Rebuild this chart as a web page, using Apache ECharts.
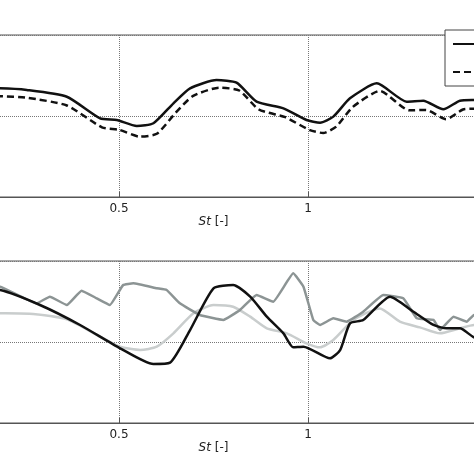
<!DOCTYPE html>
<html><head><meta charset="utf-8">
<script src="https://cdn.jsdelivr.net/npm/echarts@6/dist/echarts.min.js"></script>
<style>html,body{margin:0;padding:0;background:#fff}#c{width:474px;height:474px}</style>
</head><body><div id="c"></div>
<script>
const topSolidX=[0,0.185,0.256,0.362,0.450,0.494,0.547,0.591,0.644,0.688,0.758,0.811,0.864,0.935,0.996,1.032,1.067,1.111,1.182,1.261,1.305,1.358,1.402,1.439,1.5];
const topSolidY=[1.35,1.342,1.321,1.238,0.971,0.951,0.877,0.910,1.157,1.342,1.444,1.411,1.177,1.095,0.951,0.918,0.992,1.218,1.403,1.177,1.189,1.082,1.189,1.198,1.2];
const topDashX=[0,0.185,0.256,0.362,0.455,0.500,0.555,0.600,0.650,0.695,0.765,0.818,0.870,0.940,1.005,1.040,1.075,1.118,1.190,1.268,1.312,1.365,1.410,1.439,1.5];
const topDashY=[1.25,1.245,1.225,1.130,0.860,0.830,0.745,0.780,1.040,1.245,1.350,1.315,1.080,0.985,0.825,0.790,0.870,1.110,1.310,1.070,1.075,0.960,1.080,1.090,1.1];
const blackX=[0,0.185,0.291,0.397,0.503,0.591,0.635,0.688,0.750,0.802,0.847,0.891,0.935,0.961,0.988,1.058,1.085,1.111,1.146,1.217,1.279,1.332,1.367,1.402,1.439,1.5];
const blackY=[1.75,1.642,1.457,1.210,0.922,0.728,0.745,1.148,1.663,1.704,1.560,1.313,1.107,0.934,0.942,0.798,0.901,1.230,1.272,1.560,1.374,1.210,1.169,1.169,1.058,1.0];
const darkX=[0,0.185,0.282,0.317,0.362,0.401,0.441,0.476,0.511,0.538,0.600,0.626,0.661,0.714,0.776,0.820,0.864,0.908,0.961,0.988,1.014,1.032,1.067,1.102,1.146,1.199,1.252,1.288,1.332,1.349,1.385,1.420,1.439,1.5];
const darkY=[1.75,1.683,1.477,1.560,1.457,1.634,1.539,1.457,1.704,1.724,1.663,1.642,1.477,1.333,1.272,1.395,1.580,1.498,1.848,1.683,1.272,1.210,1.292,1.251,1.374,1.580,1.539,1.292,1.272,1.148,1.313,1.251,1.333,1.3];
const lightX=[0,0.185,0.273,0.362,0.450,0.503,0.556,0.600,0.644,0.697,0.750,0.802,0.847,0.891,0.944,0.996,1.032,1.067,1.120,1.190,1.243,1.296,1.349,1.402,1.439,1.5];
const lightY=[1.36,1.354,1.346,1.280,1.066,0.942,0.901,0.942,1.107,1.354,1.457,1.436,1.313,1.169,1.107,0.984,0.934,1.025,1.272,1.415,1.251,1.181,1.107,1.169,1.210,1.2];
const xTicks=['0','0.5','1','1.5'];
const zip=(a,b)=>a.map((v,i)=>[v,b[i]]);
const ch=echarts.init(document.getElementById('c'));
const gridLine={show:true,lineStyle:{type:'dotted',color:'#777',width:1}};
function xa(g){return {type:'value',gridIndex:g,min:0,max:1.5,interval:0.5,
 name:'{i|St} [-]',nameLocation:'middle',nameGap:18,
 nameTextStyle:{fontFamily:'DejaVu Sans',fontSize:12,color:'#222',rich:{i:{fontStyle:'italic',fontFamily:'DejaVu Sans',fontSize:12,color:'#222'}}},
 axisLine:{show:true,lineStyle:{color:'#555',width:1}},axisTick:{inside:true,length:5,lineStyle:{color:'#555'}},
 axisLabel:{fontFamily:'DejaVu Sans',fontSize:12,color:'#222',margin:6,formatter:v=>xTicks[Math.round(v*2)]},splitLine:gridLine};}
function ya(g){return {type:'value',gridIndex:g,min:0,max:2,interval:1,axisLine:{show:false},axisTick:{show:false},axisLabel:{show:false},splitLine:gridLine};}
const ls=(c,w,t)=>({color:c,width:w,type:t||'solid'});
ch.setOption({
 animation:false,
 grid:[{left:-70,width:567,top:35,height:162,show:true,borderColor:'#555',borderWidth:1,outerBoundsMode:'none',containLabel:false},
       {left:-70,width:567,top:261,height:162,show:true,borderColor:'#555',borderWidth:1,outerBoundsMode:'none',containLabel:false}],
 xAxis:[xa(0),xa(1)],yAxis:[ya(0),ya(1)],
 legend:{left:445,top:30,orient:'vertical',itemWidth:30,itemHeight:10,itemGap:16,padding:[8,7,8,7],
  borderColor:'#444',borderWidth:1,backgroundColor:'#fff',data:['case A','case B'],
  itemStyle:{opacity:0},textStyle:{fontSize:12,color:'#222'}},
 series:[
  {name:'case A',type:'line',xAxisIndex:0,yAxisIndex:0,data:zip(topSolidX,topSolidY),symbol:'none',smooth:0.2,lineStyle:ls('#111',2.5),itemStyle:{color:'#111'}},
  {name:'case B',type:'line',xAxisIndex:0,yAxisIndex:0,data:zip(topDashX,topDashY),symbol:'none',smooth:0.2,lineStyle:ls('#111',2.5,[7,4]),itemStyle:{color:'#111'}},
  {name:'light',type:'line',xAxisIndex:1,yAxisIndex:1,data:zip(lightX,lightY),symbol:'none',smooth:0.2,lineStyle:ls('#c9cdcd',2.5)},
  {name:'dark',type:'line',xAxisIndex:1,yAxisIndex:1,data:zip(darkX,darkY),symbol:'none',smooth:0.1,lineStyle:ls('#8c9494',2.5)},
  {name:'black',type:'line',xAxisIndex:1,yAxisIndex:1,data:zip(blackX,blackY),symbol:'none',smooth:0.2,lineStyle:ls('#111',2.5)}
 ]
});
</script></body></html>
